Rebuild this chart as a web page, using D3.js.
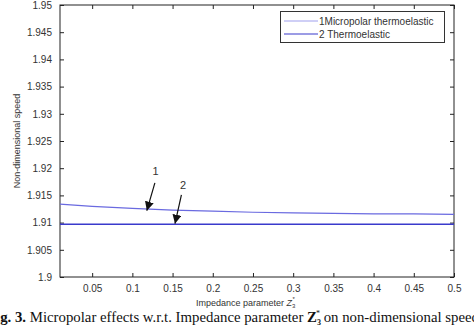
<!DOCTYPE html>
<html><head><meta charset="utf-8">
<script src="https://cdn.jsdelivr.net/npm/d3@7"></script>
<style>body{margin:0;background:#fff;} svg{display:block;}</style>
</head><body>
<script>
const zValues = [0.01, 0.05, 0.1, 0.15, 0.2, 0.25, 0.3, 0.35, 0.4, 0.45, 0.5];
const micropolar = [1.9134, 1.9130, 1.9126, 1.9123, 1.9121, 1.9119, 1.9118, 1.9117, 1.9116, 1.9116, 1.9115];
const thermoelastic = [1.9097, 1.9097, 1.9097, 1.9097, 1.9097, 1.9097, 1.9097, 1.9097, 1.9097, 1.9097, 1.9097];
const seriesNames = ["1Micropolar thermoelastic", "2 Thermoelastic"];
const xTicks = [0.05, 0.1, 0.15, 0.2, 0.25, 0.3, 0.35, 0.4, 0.45, 0.5];
const yTicks = [1.9, 1.905, 1.91, 1.915, 1.92, 1.925, 1.93, 1.935, 1.94, 1.945, 1.95];
const xTickLabels = ["0.05","0.1","0.15","0.2","0.25","0.3","0.35","0.4","0.45","0.5"];
const yTickLabels = ["1.9","1.905","1.91","1.915","1.92","1.925","1.93","1.935","1.94","1.945","1.95"];
const annotations = [
  {label:"1", lx:0.129, ly:1.9188, tx:0.128, ty:1.9173, hx:0.118, hy:1.9122},
  {label:"2", lx:0.163, ly:1.9162, tx:0.161, ty:1.9151, hx:0.153, hy:1.9098}
];

const W = 474, H = 325;
const L = 60, R = 454, T = 5, B = 277;
const svg = d3.select("body").append("svg").attr("width", W).attr("height", H);
const x = d3.scaleLinear().domain([0.01, 0.5]).range([L, R]);
const y = d3.scaleLinear().domain([1.9, 1.95]).range([B, T]);

svg.append("defs").append("marker").attr("id","ah").attr("viewBox","0 0 10 10")
  .attr("refX",10).attr("refY",5).attr("markerWidth",9).attr("markerHeight",9)
  .attr("markerUnits","userSpaceOnUse").attr("orient","auto")
  .append("path").attr("d","M0,0 L10,5 L0,10 z").attr("fill","#111");

const fontAx = "'Liberation Sans', Arial, sans-serif";
const tickStyle = g => {
  g.select(".domain").remove();
  g.selectAll("line").attr("stroke","#222");
  g.selectAll("text").attr("font-family", fontAx).attr("font-size","10px").attr("fill","#333");
};
svg.append("g").attr("transform",`translate(0,${B})`)
  .call(d3.axisBottom(x).tickValues(xTicks).tickSize(-4).tickPadding(8).tickFormat((d,i)=>xTickLabels[i]))
  .call(tickStyle);
svg.append("g").attr("transform",`translate(0,${T})`)
  .call(d3.axisTop(x).tickValues(xTicks).tickSize(-4).tickFormat(""))
  .call(tickStyle);
svg.append("g").attr("transform",`translate(${L},0)`)
  .call(d3.axisLeft(y).tickValues(yTicks).tickSize(-4).tickPadding(8).tickFormat((d,i)=>yTickLabels[i]))
  .call(tickStyle);
svg.append("g").attr("transform",`translate(${R},0)`)
  .call(d3.axisRight(y).tickValues(yTicks).tickSize(-4).tickFormat(""))
  .call(tickStyle);

svg.append("rect").attr("x",L).attr("y",T).attr("width",R-L).attr("height",B-T)
  .attr("fill","none").attr("stroke","#222").attr("stroke-width",1);

const line = d3.line().x((d,i)=>x(zValues[i])).y(d=>y(d));
svg.append("path").datum(micropolar).attr("d",line).attr("fill","none")
  .attr("stroke","#6a6ae0").attr("stroke-width",1.2);
svg.append("path").datum(thermoelastic).attr("d",line).attr("fill","none")
  .attr("stroke","#3a3acc").attr("stroke-width",1.4);

annotations.forEach(a=>{
  svg.append("text").attr("x",x(a.lx)).attr("y",y(a.ly)).attr("text-anchor","middle")
    .attr("font-family",fontAx).attr("font-size","11px").attr("fill","#333").text(a.label);
  svg.append("line").attr("x1",x(a.tx)).attr("y1",y(a.ty)).attr("x2",x(a.hx)).attr("y2",y(a.hy))
    .attr("stroke","#111").attr("stroke-width",1.2).attr("marker-end","url(#ah)");
});

const lg = svg.append("g");
lg.append("rect").attr("x",280.5).attr("y",11.5).attr("width",164).attr("height",31)
  .attr("fill","#fff").attr("stroke","#333");
const legColors = ["#a0a0ee","#3a3acc"];
seriesNames.forEach((n,i)=>{
  const yy = 21 + i*13;
  lg.append("line").attr("x1",284).attr("x2",318).attr("y1",yy).attr("y2",yy)
    .attr("stroke",legColors[i]).attr("stroke-width",1.2);
  lg.append("text").attr("x",319).attr("y",yy+3.5).attr("font-family",fontAx)
    .attr("font-size","10px").attr("fill","#333").text(n);
});

svg.append("text").attr("transform",`translate(20,${(T+B)/2}) rotate(-90)`)
  .attr("text-anchor","middle").attr("font-family",fontAx).attr("font-size","9px").attr("fill","#333")
  .text("Non-dimensional speed");
const xl = svg.append("text").attr("x",196).attr("y",306).attr("font-family",fontAx)
  .attr("font-size","9px").attr("fill","#333");
xl.append("tspan").text("Impedance parameter ");
xl.append("tspan").attr("font-style","italic").text("Z");
xl.append("tspan").attr("font-size","6px").attr("dy",2).text("3");
xl.append("tspan").attr("font-size","6px").attr("dy",-7).attr("dx",-3).text("*");

const cap = svg.append("text").attr("x",-13).attr("y",322).attr("font-family","'Liberation Serif','Times New Roman',serif")
  .attr("font-size","14.8px").attr("fill","#111");
cap.append("tspan").attr("font-weight","bold").text("Fig. 3.");
cap.append("tspan").text(" Micropolar effects w.r.t. Impedance parameter ");
cap.append("tspan").attr("font-weight","bold").text("Z");
cap.append("tspan").attr("font-size","8px").attr("font-weight","bold").attr("dy",3).text("3");
cap.append("tspan").attr("font-size","8px").attr("dy",-9).attr("dx",-5).text("*");
cap.append("tspan").attr("dy",6).text(" on non-dimensional speed V");
</script>
</body></html>
